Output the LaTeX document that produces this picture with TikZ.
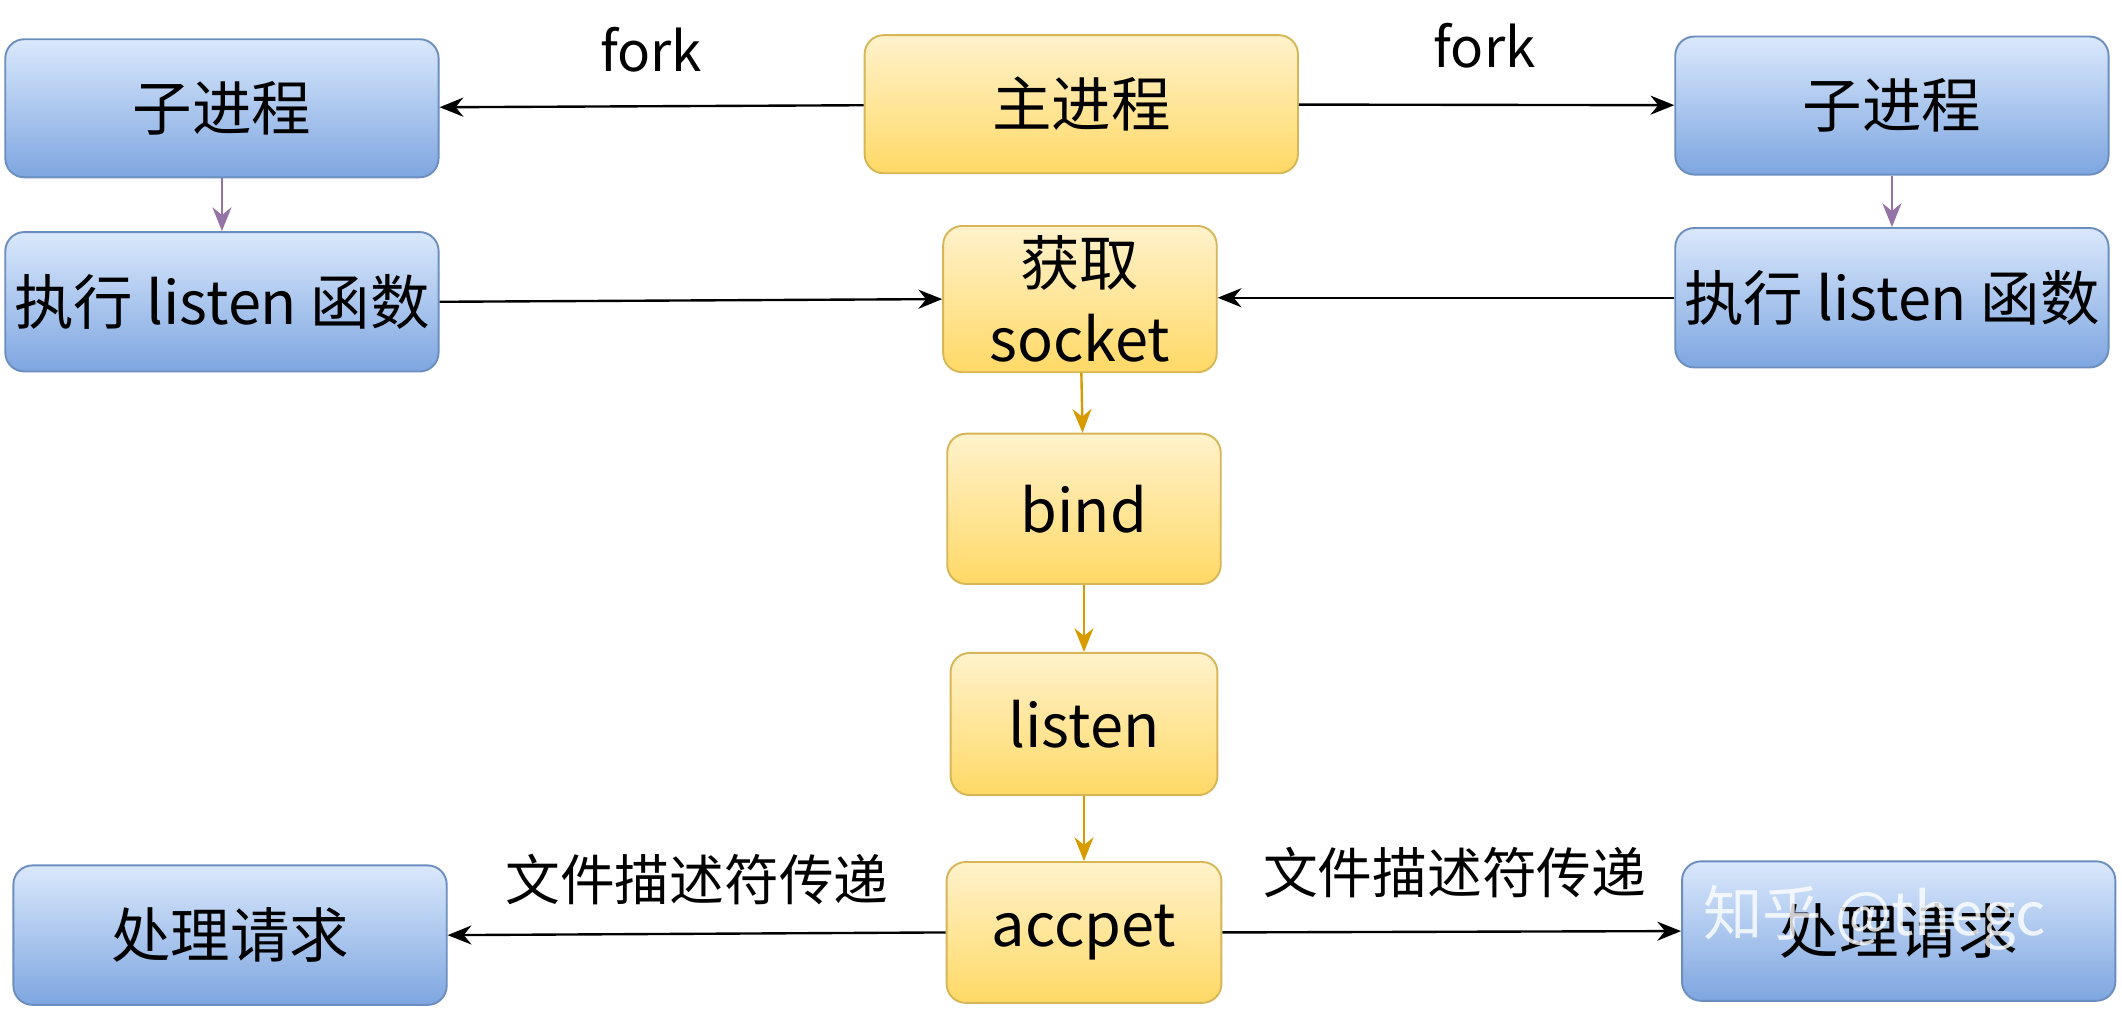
\documentclass[tikz,border=0pt]{standalone}
\usepackage{fontspec}
\setmainfont{Noto Sans CJK SC}
\usetikzlibrary{arrows.meta}
\definecolor{bt}{HTML}{DAE8FC}\definecolor{bb}{HTML}{7EA6E0}\definecolor{bd}{HTML}{6C8EBF}
\definecolor{yt}{HTML}{FFF2CC}\definecolor{yb}{HTML}{FFD966}\definecolor{yd}{HTML}{D6B656}
\definecolor{pu}{HTML}{9673A6}\definecolor{go}{HTML}{D79B00}
\tikzset{
 bluebox/.style={draw=bd,top color=bt,bottom color=bb,rounded corners=4pt,minimum width=3.2cm,minimum height=1.02cm,font=\fontsize{12.5}{14}\selectfont,inner sep=0pt},
 yelbox/.style={draw=yd,top color=yt,bottom color=yb,rounded corners=4pt,minimum width=2.02cm,minimum height=1.06cm,font=\fontsize{12.5}{14}\selectfont,inner sep=0pt,align=center},
 arr/.style={-{Stealth[length=5pt,width=4pt]},line width=0.5pt},
 lab/.style={font=\fontsize{11.5}{13}\selectfont}
}
\begin{document}
\begin{tikzpicture}[x=0.01cm,y=-0.01cm]
\useasboundingbox (0,0) rectangle (1568,748);
\node[bluebox] (c1) at (164,80) {子进程};
\node[yelbox,minimum width=3.2cm,minimum height=1.02cm] (m) at (799,77) {主进程};
\node[bluebox] (c2) at (1398,78) {子进程};
\node[bluebox,minimum height=1.03cm] (l1) at (164,223) {执行 listen 函数};
\node[bluebox,minimum height=1.03cm] (l2) at (1398,220) {执行 listen 函数};
\node[yelbox,minimum height=1.08cm,text width=2cm,font=\fontsize{12.5}{16}\selectfont] (s) at (798,221) {获取\\socket};
\node[yelbox,minimum height=1.11cm] (b) at (801,376) {bind};
\node[yelbox,minimum width=1.97cm,minimum height=1.05cm] (li) at (801,535) {listen};
\node[yelbox,minimum width=2.03cm,minimum height=1.04cm] (a) at (801,689) {accpet};
\node[bluebox,minimum height=1.03cm] (p1) at (170,691) {处理请求};
\node[bluebox,minimum height=1.03cm] (p2) at (1403,688) {处理请求};
\draw[arr] (m) -- (c1);
\draw[arr] (m) -- (c2);
\node[lab] at (481,37) {fork};
\node[lab] at (1097,34) {fork};
\draw[arr,pu] (c1) -- (l1);
\draw[arr,pu] (c2) -- (l2);
\draw[arr] (l1.east) -- (s.west);
\draw[arr] (l2.west) -- (s.east |- l2.west);
\draw[arr,go] (s) -- (b);
\draw[arr,go] (b) -- (li);
\draw[arr,go] (li) -- (a);
\draw[arr] (a.west) -- (p1.east);
\draw[arr] (a.east) -- (p2.west);
\node[lab] at (515,650) {文件描述符传递};
\node[lab] at (1075,645) {文件描述符传递};
\node[font=\fontsize{12.5}{14}\selectfont,text=white,opacity=0.8] (w) at (1385,678) {知乎 @thegc};
\end{tikzpicture}
\end{document}
